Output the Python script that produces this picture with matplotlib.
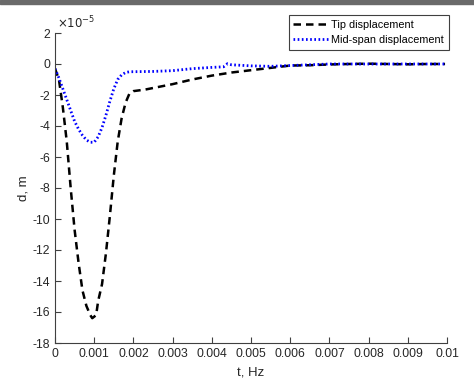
import matplotlib
matplotlib.use("Agg")
import matplotlib.pyplot as plt

# displacement values, in units of 1e-5 m
tipTime = [0, 0.0001, 0.0002, 0.0003, 0.0004, 0.0005, 0.0006, 0.0007, 0.0008, 0.0009,
           0.00095, 0.00105, 0.0011, 0.0012, 0.0013, 0.0014, 0.0015, 0.0016, 0.0017, 0.0018,
           0.0019, 0.002, 0.0023, 0.003, 0.0035, 0.004, 0.0045, 0.005, 0.0055, 0.006,
           0.0065, 0.007, 0.0075, 0.008, 0.0085, 0.009, 0.0095, 0.00995]
tipDisp = [-0.3, -1.0, -2.8, -5.0, -8.0, -10.7, -12.8, -14.6, -15.6, -16.2,
           -16.4, -16.2, -15.3, -14.2, -12.2, -9.8, -7.2, -5.0, -3.5, -2.5,
           -1.9, -1.75, -1.65, -1.3, -1.0, -0.75, -0.55, -0.4, -0.25, -0.1,
           -0.08, -0.03, 0.0, 0.02, 0.0, -0.02, 0.0, 0.0]

midTime = [0, 0.0001, 0.0002, 0.0003, 0.0004, 0.0005, 0.0006, 0.0007, 0.0008, 0.0009,
           0.001, 0.0011, 0.0012, 0.0013, 0.0014, 0.0015, 0.0016, 0.0017, 0.0018, 0.0019,
           0.0025, 0.003, 0.0035, 0.004, 0.0043, 0.0044, 0.0045, 0.005, 0.0055, 0.006,
           0.0065, 0.007, 0.00995]
midDisp = [-0.3, -0.9, -1.6, -2.3, -3.0, -3.7, -4.2, -4.6, -4.9, -5.05,
           -5.05, -4.7, -4.1, -3.3, -2.4, -1.6, -1.0, -0.7, -0.55, -0.5,
           -0.48, -0.43, -0.3, -0.22, -0.18, 0.02, -0.05, -0.12, -0.15, -0.1,
           -0.05, 0.0, 0.0]

xTicks = [0, 0.001, 0.002, 0.003, 0.004, 0.005, 0.006, 0.007, 0.008, 0.009, 0.01]
xTickLabels = ['0', '0.001', '0.002', '0.003', '0.004', '0.005', '0.006', '0.007', '0.008', '0.009', '0.01']
yTicks = [2, 0, -2, -4, -6, -8, -10, -12, -14, -16, -18]

plt.rcParams['font.family'] = ['Liberation Sans', 'DejaVu Sans']
plt.rcParams['axes.unicode_minus'] = False
axisColor = '#404040'
textColor = '#262626'

fig = plt.figure(figsize=(4.74, 3.78), dpi=100)
# dark strip along the top of the picture
fig.patches.append(plt.Rectangle((0, 1 - 4 / 378), 1, 4 / 378, transform=fig.transFigure,
                                 color='#6a6a6a', zorder=0))
ax = fig.add_axes([55 / 474, 35 / 378, 392 / 474, 310 / 378])

ax.plot(tipTime, tipDisp, color='black', linestyle=(0, (3, 2)), linewidth=1.8,
        label='Tip displacement')
ax.plot(midTime, midDisp, color='#0000ff', linestyle=(0, (0.6, 0.9)), linewidth=2.0,
        label='Mid-span displacement')

ax.set_xlim(0, 0.01)
ax.set_ylim(-18, 2)
ax.set_xticks(xTicks)
ax.set_xticklabels(xTickLabels)
ax.set_yticks(yTicks)
ax.text(0.005, 1.005, r'$\times10^{-5}$', transform=ax.transAxes, fontsize=8.5, color=textColor,
        ha='left', va='bottom')

for side in ['top', 'right']:
    ax.spines[side].set_visible(False)
for side in ['left', 'bottom']:
    ax.spines[side].set_color(axisColor)
    ax.spines[side].set_linewidth(0.8)
ax.tick_params(direction='in', length=4, width=0.8, color=axisColor, labelsize=8.8, labelcolor=textColor)

ax.set_xlabel('t, Hz', fontsize=9.5, color=textColor, labelpad=5)
ax.set_ylabel('d, m', fontsize=9.5, color=textColor, labelpad=2)

leg = ax.legend(loc='upper right', bbox_to_anchor=(449 / 474, 1 - 15 / 378), bbox_transform=fig.transFigure,
                fontsize=7.8, handlelength=3.3, handletextpad=0.2, borderpad=0.45, labelspacing=0.45,
                borderaxespad=0, fancybox=False, framealpha=1)
leg.get_frame().set_edgecolor(axisColor)
leg.get_frame().set_linewidth(0.8)

fig.savefig('out.png', dpi=100)
